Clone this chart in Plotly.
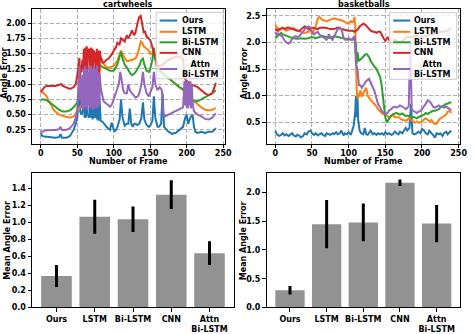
import plotly.graph_objects as go

W, H = 474, 334
def px(x): return x / W
def py(y): return 1 - y / H

methods = ["Ours", "LSTM", "Bi-LSTM", "CNN", "Attn<br>Bi-LSTM"]
colors = ["#1f77b4", "#ff7f0e", "#2ca02c", "#d62728", "#9467bd"]

# ---------------- cartwheels (frame, angle error) ----------------
cw_ours_f = [0,2,5,10,15,20,25,27,29,35,40,45,48,50,52,53,54,56,58,59,60,61,62,63,64,65,66,67,68,69,70,71,72,73,74,75,76,77,78,79,80,81,82,85,88,90,93,95,97,99,101,103,105,108,110,112,115,118,120,122,124,126,128,130,132,135,138,140,142,145,148,150,153,155,157,160,162,165,167,169,172,175,178,180,183,185,190,195,198,200,202,205,208,210,212,215,220,225,230,235,238,240]
cw_ours_v = [0.20,0.15,0.14,0.13,0.13,0.12,0.13,0.18,0.12,0.12,0.15,0.25,0.35,0.45,0.7,1.3,0.55,0.5,0.6,0.95,0.45,1.0,0.45,0.9,0.5,0.5,0.45,0.5,0.95,0.45,1.0,0.42,0.95,0.45,0.5,0.45,0.9,0.42,1.0,0.4,0.9,0.42,0.4,0.38,0.32,0.3,0.27,0.25,0.37,0.3,0.22,0.25,0.3,0.42,0.75,0.45,0.32,0.35,0.35,0.6,0.35,0.3,0.35,0.35,0.33,0.35,0.45,0.7,0.42,0.33,0.3,0.32,0.4,0.8,0.45,0.3,0.3,0.35,0.85,0.3,0.25,0.22,0.2,0.18,0.2,0.2,0.25,0.3,0.45,0.5,0.35,0.45,0.5,0.3,0.22,0.2,0.22,0.2,0.22,0.22,0.25,0.28]

cw_lstm_f = [0,3,5,8,10,13,15,18,20,25,30,35,40,45,50,52,55,60,65,70,75,80,81,82,85,88,90,95,100,103,105,108,110,112,115,118,120,125,130,133,135,137,139,141,143,145,148,150,153,155,157,159,162,165,170,175,180,185,190,195,200,205,210,215,220,225,230,235,238,240]
cw_lstm_v = [0.87,0.86,0.84,0.8,0.75,0.68,0.62,0.57,0.55,0.5,0.48,0.47,0.45,0.47,0.55,0.6,0.65,0.72,0.78,0.8,0.82,0.85,1.4,1.4,1.35,1.3,1.28,1.27,1.3,1.35,1.38,1.48,1.55,1.5,1.42,1.38,1.38,1.4,1.42,1.5,1.6,1.7,1.68,1.62,1.6,1.58,1.55,1.5,1.5,1.58,1.45,1.3,1.25,1.2,1.15,1.1,1.05,1.0,0.95,0.9,0.85,0.78,0.72,0.67,0.62,0.58,0.57,0.58,0.6,0.6]

cw_bilstm_f = [0,5,10,15,20,25,30,35,40,45,50,55,58,60,62,64,66,68,70,72,75,78,80,82,85,90,95,100,103,105,108,110,112,115,118,120,123,125,128,130,133,135,138,140,142,145,148,150,153,155,157,160,165,170,175,180,185,190,195,198,200,203,205,208,210,215,220,225,230,235,238,240]
cw_bilstm_v = [0.75,0.75,0.72,0.68,0.63,0.58,0.55,0.55,0.57,0.62,0.7,0.85,1.0,1.15,1.4,1.5,1.45,1.4,1.35,1.4,1.38,1.35,1.32,1.3,1.28,1.25,1.22,1.22,1.28,1.32,1.45,1.53,1.42,1.32,1.27,1.22,1.17,1.15,1.17,1.2,1.25,1.3,1.4,1.42,1.32,1.22,1.2,1.25,1.4,1.6,1.4,1.25,1.2,1.15,1.1,1.05,1.0,0.95,0.92,0.95,0.9,0.8,0.75,0.72,0.72,0.72,0.75,0.78,0.82,0.85,0.88,0.9]

cw_cnn_f = [0,2,5,8,10,15,20,25,28,30,35,40,45,48,50,52,53,54,55,56,57,58,59,60,61,62,63,64,65,66,67,68,69,70,71,72,73,74,75,76,77,78,79,80,81,82,85,88,90,93,95,98,100,103,105,108,110,113,115,118,120,123,125,128,130,133,135,137,139,141,143,145,148,150,152,155,158,160,165,170,175,180,185,190,195,197,200,205,210,215,220,225,230,235,238,240]
cw_cnn_v = [0.87,0.9,0.95,0.97,0.97,0.98,0.97,0.99,1.0,0.97,0.95,0.92,0.95,1.0,1.15,1.35,1.43,1.1,1.3,1.2,1.4,1.25,1.58,1.2,1.6,1.15,1.62,1.2,1.58,1.55,1.58,1.15,1.6,1.2,1.58,1.15,1.55,1.5,1.52,1.15,1.58,1.12,1.55,1.15,1.55,1.45,1.35,1.37,1.4,1.42,1.45,1.5,1.55,1.6,1.68,1.65,1.75,1.72,1.7,1.8,1.75,1.82,1.88,1.8,1.85,2.02,2.1,2.12,1.95,1.85,1.86,1.78,1.75,1.72,1.65,1.5,1.38,1.3,1.3,1.35,1.4,1.42,1.45,1.45,1.42,1.1,1.05,1.0,0.97,0.95,0.9,0.85,0.82,0.85,0.95,1.02]

cw_attn_f = [0,3,5,10,15,20,25,27,29,35,40,45,48,50,51,52,53,54,55,56,57,58,59,60,61,62,63,64,65,66,67,68,69,70,71,72,73,74,75,76,77,78,79,80,81,82,84,86,88,90,93,95,98,100,103,105,107,109,111,113,115,118,120,122,125,128,130,133,135,138,140,142,145,148,150,153,155,157,160,163,166,168,170,175,180,185,190,195,197,198,199,200,201,202,203,204,205,206,207,208,210,215,220,225,230,235,238,240]
cw_attn_v = [0.23,0.22,0.24,0.25,0.25,0.25,0.26,0.3,0.25,0.25,0.28,0.35,0.45,0.6,0.8,1.1,1.3,0.75,1.1,0.6,1.15,0.58,1.25,0.6,1.3,0.62,1.25,0.58,1.2,0.65,1.28,0.6,1.3,0.62,1.25,0.58,1.3,0.6,1.25,0.62,1.3,0.6,1.2,0.65,1.15,0.95,0.8,0.72,0.7,0.68,0.65,0.63,0.68,0.75,0.85,0.95,1.0,1.2,1.0,0.9,0.85,0.85,1.0,0.9,0.85,0.8,0.78,0.8,0.85,1.0,1.2,1.0,0.85,0.8,0.85,0.95,1.2,1.0,0.9,0.95,0.9,0.5,0.47,0.5,0.52,0.55,0.58,0.62,1.05,0.65,1.05,0.62,1.05,0.6,1.0,0.65,1.05,0.6,1.0,0.7,0.55,0.5,0.47,0.43,0.42,0.45,0.5,0.52]

# ---------------- basketballs (frame, angle error) ----------------
bb_ours_f = [0,2,5,8,10,13,15,18,20,23,25,28,30,33,35,38,40,43,45,48,50,53,55,58,60,63,65,68,70,73,75,78,80,83,85,88,90,93,95,98,100,103,105,107,109,110,111,112,113,115,117,120,122,124,126,128,130,133,135,138,140,143,145,148,150,153,155,158,160,163,165,168,170,173,175,178,180,183,185,187,190,193,195,198,200,203,205,208,210,213,215,218,220,223,225,228,230,233,235,238,240]
bb_ours_v = [0.35,0.28,0.25,0.27,0.3,0.26,0.28,0.25,0.27,0.3,0.26,0.24,0.27,0.25,0.22,0.25,0.3,0.28,0.33,0.35,0.3,0.27,0.3,0.26,0.28,0.3,0.27,0.25,0.3,0.28,0.27,0.3,0.28,0.32,0.28,0.3,0.35,0.26,0.3,0.28,0.32,0.27,0.35,0.45,0.7,1.0,0.6,1.0,0.55,0.35,0.3,0.28,0.4,0.28,0.27,0.3,0.35,0.28,0.3,0.27,0.3,0.28,0.3,0.27,0.32,0.28,0.3,0.27,0.28,0.33,0.3,0.28,0.33,0.3,0.35,0.4,0.35,0.4,0.85,0.3,0.28,0.3,0.33,0.3,0.38,0.35,0.3,0.28,0.35,0.3,0.25,0.22,0.3,0.28,0.3,0.25,0.3,0.33,0.28,0.32,0.35]

bb_lstm_f = [0,3,5,8,10,13,15,20,25,30,35,40,45,48,50,52,55,58,60,62,65,70,75,80,85,90,95,100,103,105,107,108,109,110,111,112,114,116,118,120,122,124,126,128,130,133,135,138,140,143,145,148,150,153,155,158,160,163,165,168,170,173,175,178,180,183,185,188,190,193,195,198,200,203,205,208,210,213,215,218,220,223,225,228,230,233,235,238,240]
bb_lstm_v = [2.33,2.27,2.22,2.25,2.28,2.25,2.22,2.25,2.27,2.22,2.2,2.18,2.2,2.25,2.15,2.2,2.3,2.45,2.48,2.45,2.42,2.4,2.42,2.45,2.43,2.42,2.38,2.35,2.4,2.38,2.4,2.48,2.3,1.6,1.1,0.95,1.0,1.1,0.98,1.05,1.1,1.15,1.0,0.95,0.92,0.88,0.85,0.8,0.75,0.7,0.68,0.65,0.65,0.62,0.6,0.62,0.65,0.6,0.6,0.6,0.58,0.55,0.55,0.53,0.55,0.6,0.55,0.52,0.5,0.52,0.5,0.5,0.52,0.55,0.58,0.55,0.52,0.55,0.5,0.47,0.48,0.55,0.58,0.6,0.62,0.65,0.7,0.72,0.68]

bb_bilstm_f = [0,3,5,8,10,15,20,25,30,35,40,45,50,55,60,65,70,75,80,85,90,95,100,105,108,110,111,112,114,116,118,120,123,125,128,130,133,135,138,140,143,145,147,149,150,152,154,156,158,160,163,165,168,170,173,175,178,180,183,185,188,190,193,195,198,200,203,205,208,210,213,215,218,220,223,225,228,230,233,235,238,240]
bb_bilstm_v = [2.08,2.12,2.15,2.18,2.15,2.12,2.1,2.08,2.07,2.08,2.07,2.08,2.1,2.08,2.1,2.12,2.1,2.08,2.12,2.1,2.08,2.07,2.06,2.05,2.08,1.95,1.6,1.82,1.65,1.68,1.72,1.75,1.78,1.78,1.72,1.65,1.58,1.55,1.5,1.45,1.35,1.2,0.95,0.7,0.6,0.5,0.55,0.6,0.63,0.65,0.67,0.68,0.66,0.65,0.67,0.65,0.62,0.63,0.62,0.6,0.6,0.6,0.58,0.6,0.62,0.63,0.65,0.68,0.66,0.68,0.7,0.72,0.72,0.73,0.75,0.78,0.8,0.82,0.85,0.85,0.88,0.87]

bb_cnn_f = [0,3,5,8,10,13,15,18,20,23,25,28,30,33,35,38,40,43,45,48,50,53,55,58,60,65,70,75,80,85,90,95,100,103,105,108,110,113,115,118,120,123,125,128,130,133,135,138,140,143,145,148,150,153,155,158,160,163,165,170,175,180,185,190,195,200,205,210,215,220,225,230,235,240]
bb_cnn_v = [2.25,2.22,2.25,2.27,2.27,2.25,2.27,2.28,2.27,2.25,2.25,2.23,2.22,2.22,2.25,2.28,2.3,2.28,2.25,2.25,2.28,2.27,2.25,2.25,2.27,2.28,2.27,2.25,2.25,2.28,2.25,2.23,2.22,2.22,2.22,2.2,2.22,2.25,2.3,2.33,2.35,2.33,2.3,2.25,2.22,2.2,2.2,2.18,2.2,2.2,2.15,2.05,2.02,2.1,2.05,1.98,2.0,2.05,2.03,2.0,2.05,2.1,2.1,2.12,2.12,2.1,2.12,2.15,2.15,2.17,2.2,2.2,2.22,2.27]

bb_attn_f = [0,2,4,6,8,10,12,15,18,20,22,25,28,30,33,35,38,40,43,45,48,50,53,55,58,60,63,65,68,70,73,75,78,80,83,85,88,90,93,95,98,100,103,105,107,108,110,112,114,116,118,120,122,124,126,128,130,132,135,138,140,143,145,148,150,153,155,158,160,163,165,168,170,173,175,178,180,182,184,186,188,190,193,195,198,200,203,205,208,210,213,215,218,220,223,225,228,230,233,235,238,240]
bb_attn_v = [2.2,2.15,2.17,2.15,2.12,2.1,2.05,2.0,1.98,2.0,2.05,2.1,2.12,2.1,2.12,2.15,2.2,2.25,2.28,2.3,2.28,2.2,2.15,2.18,2.2,2.15,2.12,2.1,2.08,2.05,2.15,2.1,2.05,2.1,2.2,2.25,2.28,2.25,2.1,2.05,2.05,2.08,2.05,2.05,2.1,2.12,1.6,1.5,1.2,1.2,1.15,1.2,1.25,1.28,1.3,1.32,1.25,1.2,1.1,0.95,0.85,0.78,0.72,0.68,0.66,0.68,0.72,0.75,0.78,0.8,0.78,0.8,0.82,0.8,0.78,0.75,0.78,0.8,2.05,0.75,0.72,0.7,0.68,0.7,0.72,0.75,0.8,0.85,0.92,0.9,0.85,0.8,0.78,0.8,0.82,0.8,0.8,0.78,0.8,0.78,0.75,0.75]

# ---------------- mean angle error bars ----------------
cw_mean = [0.37, 1.07, 1.04, 1.33, 0.64]
cw_std = [0.13, 0.20, 0.15, 0.17, 0.14]
bb_mean = [0.30, 1.45, 1.48, 2.17, 1.46]
bb_std = [0.075, 0.42, 0.33, 0.055, 0.325]

cw_series = [(cw_ours_f, cw_ours_v), (cw_lstm_f, cw_lstm_v), (cw_bilstm_f, cw_bilstm_v),
             (cw_cnn_f, cw_cnn_v), (cw_attn_f, cw_attn_v)]
bb_series = [(bb_ours_f, bb_ours_v), (bb_lstm_f, bb_lstm_v), (bb_bilstm_f, bb_bilstm_v),
             (bb_cnn_f, bb_cnn_v), (bb_attn_f, bb_attn_v)]

FONT = "DejaVu Sans"
fig = go.Figure()

for i, (f, v) in enumerate(cw_series):
    fig.add_trace(go.Scatter(x=f, y=v, mode="lines", line=dict(color=colors[i], width=2),
                             xaxis="x", yaxis="y", showlegend=False))
for i, (f, v) in enumerate(bb_series):
    fig.add_trace(go.Scatter(x=f, y=v, mode="lines", line=dict(color=colors[i], width=2),
                             xaxis="x2", yaxis="y2", showlegend=False))

bar_color = "#929292"
fig.add_trace(go.Bar(x=methods, y=cw_mean, width=0.8, marker=dict(color=bar_color, line=dict(width=0)),
                     error_y=dict(type="data", array=cw_std, thickness=3, width=0, color="black"),
                     xaxis="x3", yaxis="y3", showlegend=False))
fig.add_trace(go.Bar(x=methods, y=bb_mean, width=0.8, marker=dict(color=bar_color, line=dict(width=0)),
                     error_y=dict(type="data", array=bb_std, thickness=3, width=0, color="black"),
                     xaxis="x4", yaxis="y4", showlegend=False))

tickfont = dict(family=FONT, size=8, color="black", weight="bold")
base = dict(showline=True, linecolor="black", linewidth=1, mirror=True, ticks="outside",
            ticklen=3.5, tickwidth=1, tickcolor="black", tickfont=tickfont, zeroline=False)
grid = dict(showgrid=True, gridcolor="#b0b0b0", gridwidth=1, griddash="4px,2px")
nogrid = dict(showgrid=False)

xt = [0, 50, 100, 150, 200, 250]
cw_yt = [0.25, 0.5, 0.75, 1.0, 1.25, 1.5, 1.75, 2.0]
bb_yt = [0.5, 1.0, 1.5, 2.0, 2.5]

fig.update_layout(
    width=W, height=H, margin=dict(l=0, r=0, t=0, b=0),
    paper_bgcolor="white", plot_bgcolor="white",
    xaxis=dict(domain=[px(32.5), px(228)], anchor="y", range=[-12, 252], tickvals=xt,
               ticklabelstandoff=-2, **base, **grid),
    yaxis=dict(domain=[py(147), py(9)], anchor="x", range=[0.02, 2.235], tickvals=cw_yt,
               ticktext=["%.2f" % t for t in cw_yt], **base, **grid),
    xaxis2=dict(domain=[px(270.5), px(467)], anchor="y2", range=[-12, 252], tickvals=xt,
                ticklabelstandoff=-2, **base, **grid),
    yaxis2=dict(domain=[py(147), py(9)], anchor="x2", range=[0.1, 2.63], tickvals=bb_yt,
                ticktext=["%.1f" % t for t in bb_yt], **base, **grid),
    xaxis3=dict(domain=[px(32.5), px(237.5)], anchor="y3", type="category", range=[-0.64, 4.64], **base, **nogrid),
    yaxis3=dict(domain=[py(314), py(176.7)], anchor="x3", range=[0, 1.585],
                tickvals=[0, 0.2, 0.4, 0.6, 0.8, 1.0, 1.2, 1.4],
                ticktext=["0.0", "0.2", "0.4", "0.6", "0.8", "1.0", "1.2", "1.4"], **base, **nogrid),
    xaxis4=dict(domain=[px(270.5), px(467)], anchor="y4", type="category", range=[-0.64, 4.64], **base, **nogrid),
    yaxis4=dict(domain=[py(314), py(176.7)], anchor="x4", range=[0, 2.34],
                tickvals=[0, 0.5, 1.0, 1.5, 2.0],
                ticktext=["0.0", "0.5", "1.0", "1.5", "2.0"], **base, **nogrid),
)

lab = dict(family=FONT, size=8, color="black", weight="bold")
annotations = []
def ann(text, x, y, angle=0, xanchor="center", pad=1):
    annotations.append(dict(text=text, x=px(x), y=py(y), xref="paper", yref="paper",
                            showarrow=False, font=lab, textangle=angle, borderpad=pad,
                            xanchor=xanchor, yanchor="middle"))

ann("cartwheels", 130, 4.5, pad=0)
ann("basketballs", 369, 4.5, pad=0)
ann("Number of Frame", 130, 165, pad=0)
ann("Number of Frame", 369, 165, pad=0)
ann("Angle Error", 4.5, 75, angle=-90, pad=0)
ann("Angle Error", 248.5, 75, angle=-90, pad=0)
ann("Mean Angle Error", 8, 245, angle=-90, pad=0)
ann("Mean Angle Error", 247, 246, angle=-90, pad=0)

# legends (one per line panel)
shapes = []
legend_labels = ["Ours", "LSTM", "Bi-LSTM", "CNN", "Attn<br>Bi-LSTM"]
row_y = [21, 32.5, 43.2, 54, 70.5]
def add_legend(bx0, bx1, by0, by1, lx0, lx1, tx):
    shapes.append(dict(type="rect", xref="paper", yref="paper", x0=px(bx0), x1=px(bx1),
                       y0=py(by1), y1=py(by0), fillcolor="rgba(255,255,255,0.8)",
                       line=dict(color="#cccccc", width=1), layer="above"))
    for i, lbl in enumerate(legend_labels):
        shapes.append(dict(type="line", xref="paper", yref="paper", x0=px(lx0), x1=px(lx1),
                           y0=py(row_y[i]), y1=py(row_y[i]),
                           line=dict(color=colors[i], width=2), layer="above"))
        ann(lbl, tx, row_y[i], xanchor="left", pad=0)

add_legend(158.5, 226.5, 12.5, 80.5, 162, 180, 183.5)
add_legend(395.5, 463.5, 13, 81, 399, 416.5, 419.5)

fig.update_layout(annotations=annotations, shapes=shapes)
fig.write_html("out.html")
